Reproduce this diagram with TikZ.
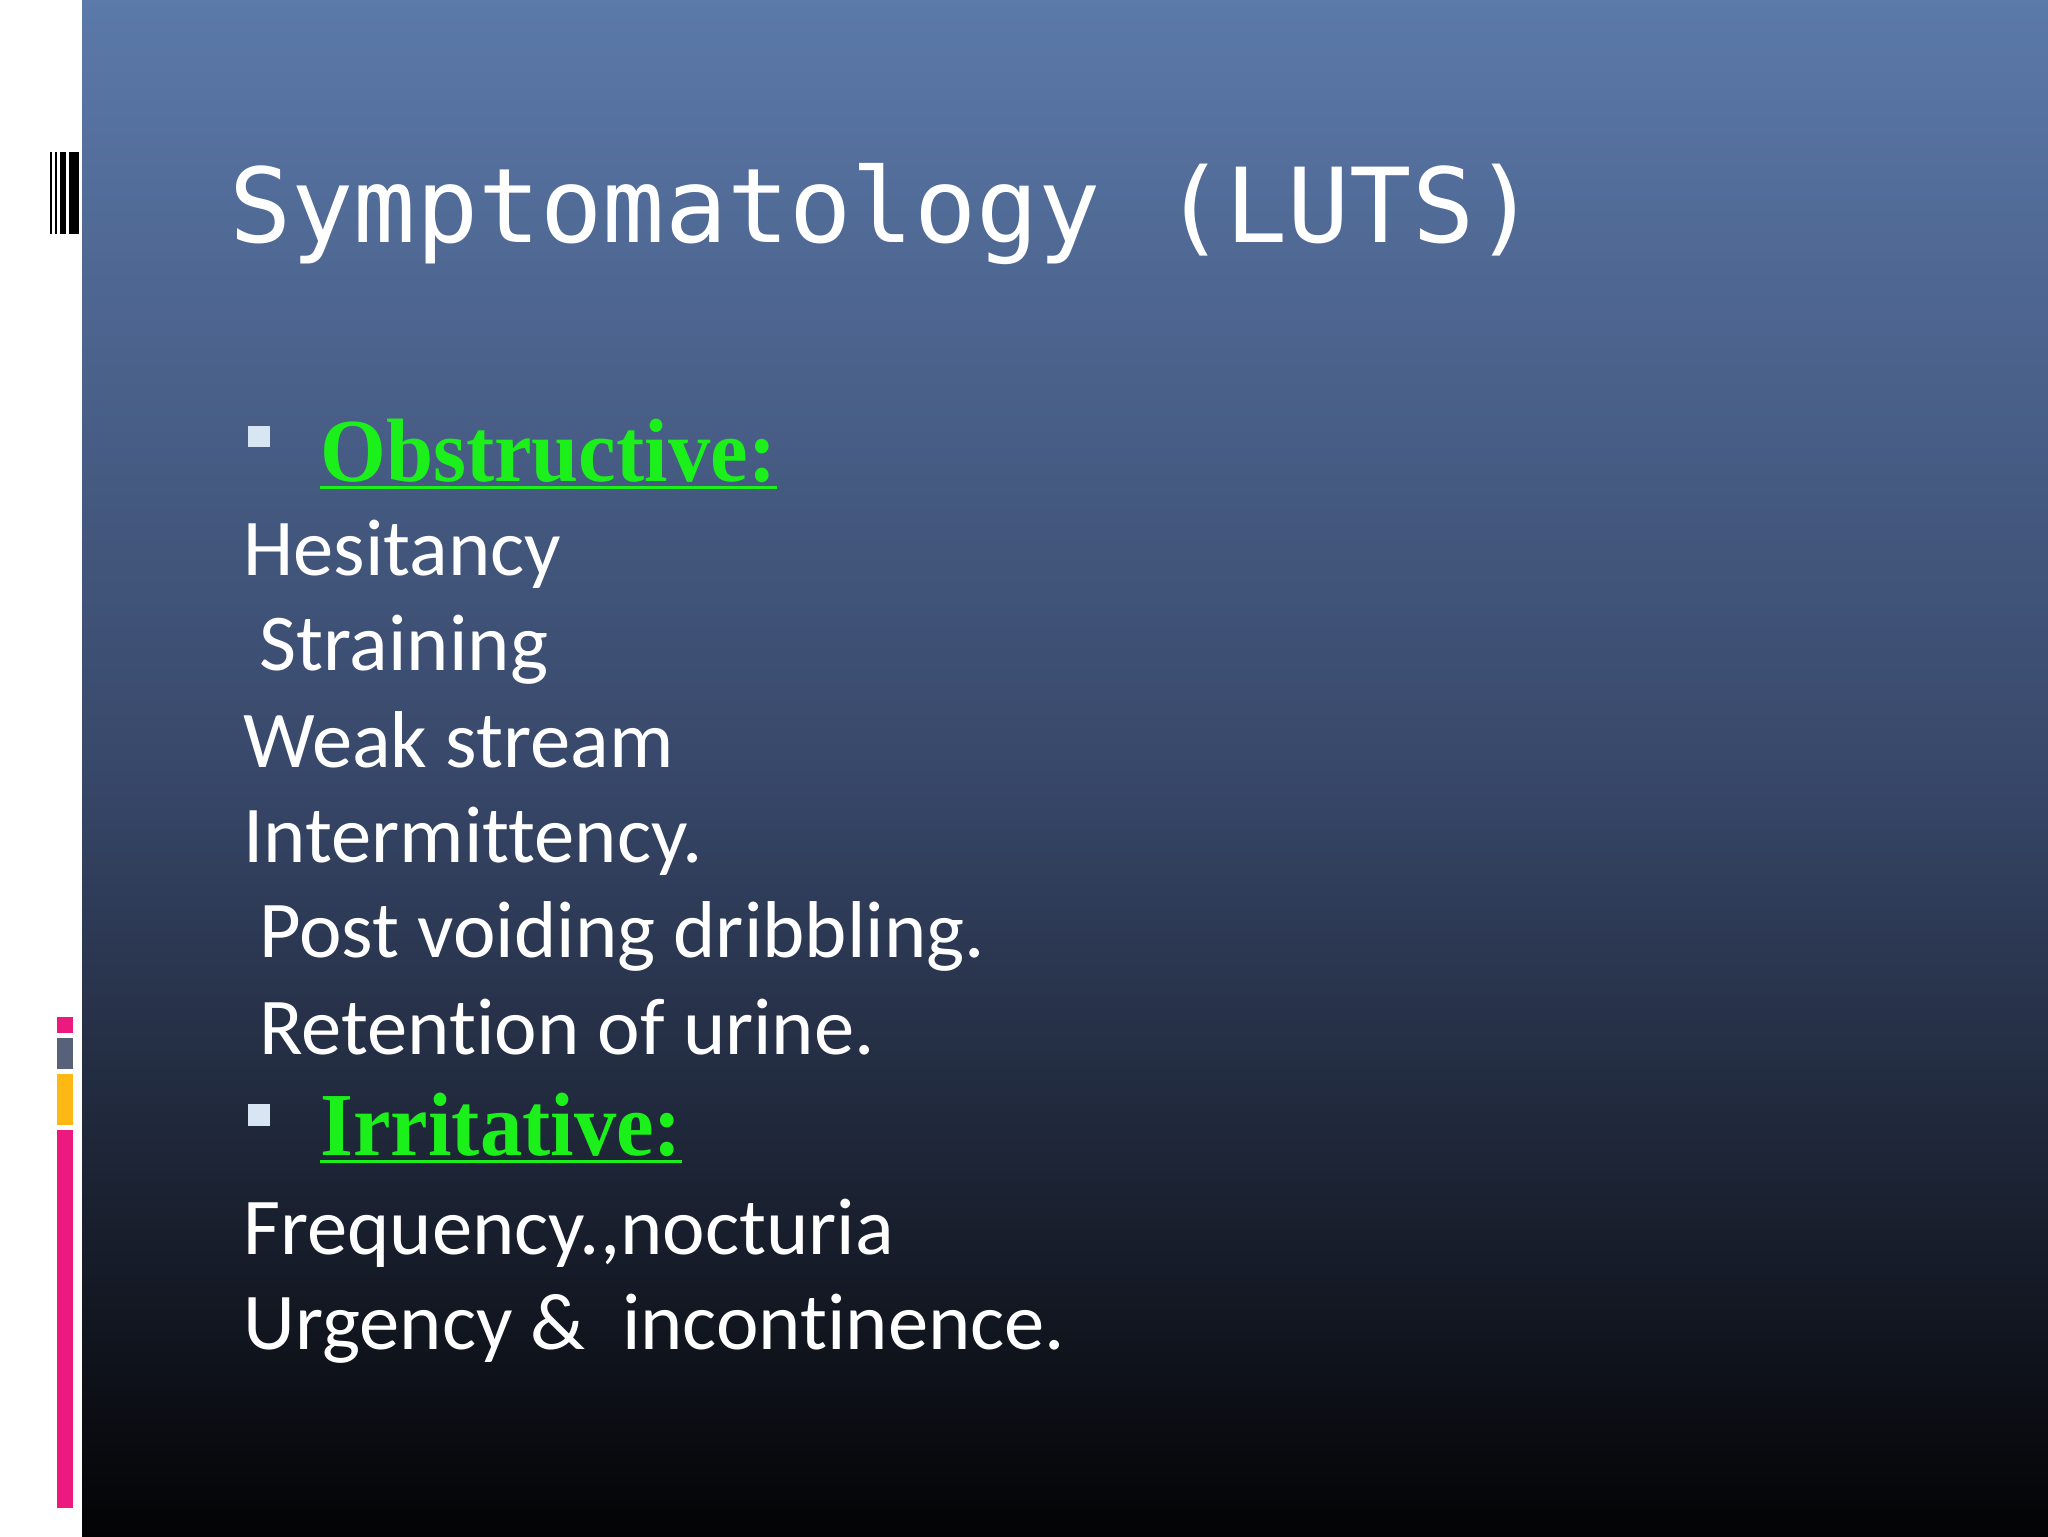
\documentclass[tikz,border=0pt]{standalone}
\usepackage{fontspec}
\setmainfont[Ligatures={NoCommon}]{Carlito}
\newfontfamily\titlefont{DejaVu Sans Mono}
\newfontfamily\headfont{Liberation Serif}
\definecolor{topc}{HTML}{5B79A9}
\definecolor{midc}{HTML}{38486A}
\definecolor{botc}{HTML}{030304}
\definecolor{headg}{HTML}{1BF01B}
\definecolor{bulc}{HTML}{D8E6F4}
\definecolor{pinkc}{HTML}{EC1A7E}
\definecolor{grayc}{HTML}{58617A}
\definecolor{yelc}{HTML}{FDB813}
\tikzset{
  line/.style={anchor=base west,inner sep=0,text=white,font=\fontsize{40.3}{48}\selectfont},
  head/.style={anchor=base west,inner sep=0,text=headg,font=\headfont\bfseries\fontsize{45}{54}\selectfont},
  bul/.style={fill=bulc,draw=none},
  bar/.style={fill=black,draw=none}
}
\begin{document}
\begin{tikzpicture}[x=0.5pt,y=-0.5pt]
\useasboundingbox (0,0) rectangle (2048,1536);
\fill[white] (0,0) rectangle (82,1536);
\shade[top color=topc,bottom color=botc,middle color=midc,draw=none] (82,0) rectangle (2048,1536);
% barcode
\fill[bar] (50,152) rectangle (51.5,234);
\fill[bar] (55,152) rectangle (57,234);
\fill[bar] (60,152) rectangle (66,234);
\fill[bar] (69,152) rectangle (79,234);
% color strip
\fill[pinkc] (57,1017) rectangle (73,1033);
\fill[grayc] (57,1038) rectangle (73,1069);
\fill[yelc] (57,1074) rectangle (73,1125);
\fill[pinkc] (57,1130) rectangle (73,1508);
% title
\node[anchor=base west,inner sep=0,text=white,font=\titlefont\fontsize{51.7}{60}\selectfont] (title) at (229,242) {Symptomatology (LUTS)};
% bullets
\fill[bul] (248,426) rectangle (270,447);
\fill[bul] (248,1104) rectangle (270,1126);
\node[head,xscale=0.94] (h1) at (320,481) {Obstructive:};
\draw[headg,line width=1.5pt] ([yshift=-3pt]h1.base west) -- ([yshift=-3pt]h1.base east);
\node[line] (l1) at (243,575) {Hesitancy};
\node[line] (l2) at (259,670) {Straining};
\node[line] (l3) at (243,767) {Weak stream};
\node[line] (l4) at (243,862) {Intermittency.};
\node[line] (l5) at (259,957) {Post voiding dribbling.};
\node[line] (l6) at (259,1054) {Retention of urine.};
\node[head,xscale=0.94] (h2) at (320,1155) {Irritative:};
\draw[headg,line width=1.5pt] ([yshift=-3pt]h2.base west) -- ([yshift=-3pt]h2.base east);
\node[line] (l7) at (243,1254) {Frequency.,nocturia};
\node[line] (l8) at (243,1349) {Urgency \&\ \ incontinence.};
\end{tikzpicture}
\end{document}
